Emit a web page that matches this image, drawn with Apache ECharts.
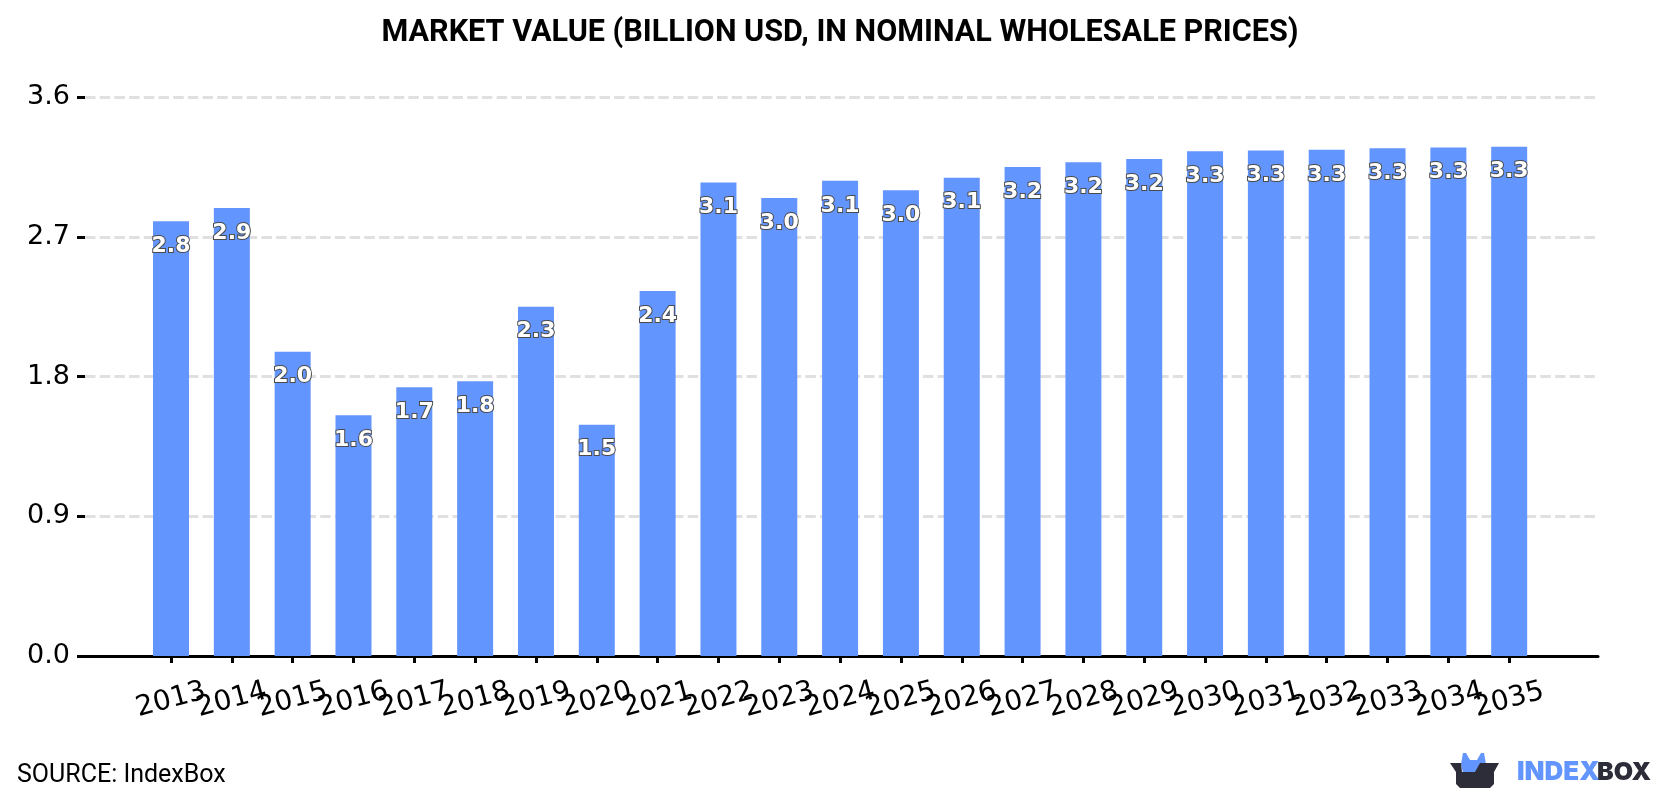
<!DOCTYPE html>
<html>
<head>
<meta charset="utf-8">
<style>html,body{margin:0;padding:0;background:#fff}#chart{width:1680px;height:800px}</style>
<script src="https://cdn.jsdelivr.net/npm/echarts@6/dist/echarts.min.js"></script>
</head>
<body>
<div id="chart"></div>
<script>
const years = ['2013','2014','2015','2016','2017','2018','2019','2020','2021','2022','2023','2024','2025','2026','2027','2028','2029','2030','2031','2032','2033','2034','2035'];
const marketValue = [2.80,2.885,1.96,1.55,1.73,1.77,2.25,1.49,2.35,3.05,2.95,3.06,3.00,3.08,3.15,3.18,3.20,3.25,3.255,3.26,3.27,3.275,3.28];
const valueTicks = {min:0,max:3.6,step:0.9};

const BLUE = '#6395ff';
const DARK = '#2c2d39';
const oneDecimal = v => (Math.round(v*10+1e-6)/10).toFixed(1);

const chart = echarts.init(document.getElementById('chart'));
chart.setOption({
  animation:false,
  backgroundColor:'#fff',
  title:{
    text:'MARKET VALUE (BILLION USD, IN NOMINAL WHOLESALE PRICES)',
    left:'center',top:13,
    textStyle:{fontFamily:'Roboto',fontWeight:'bold',fontSize:30.6,color:'#000'}
  },
  // The outer grid carries the value scale and the long baseline;
  // the inner one holds the year bands, inset from the baseline ends.
  grid:[
    {left:85,right:82,top:97,bottom:144},
    {left:140.6,width:1399,top:97,bottom:144}
  ],
  xAxis:[
    {gridIndex:0,type:'category',data:[],
      axisLine:{show:true,lineStyle:{color:'#000',width:3}},
      axisTick:{show:false},axisLabel:{show:false},splitLine:{show:false}},
    {gridIndex:1,type:'category',data:years,
      axisLine:{show:false},
      axisTick:{show:true,alignWithLabel:true,length:7,interval:0,lineStyle:{color:'#000',width:3}},
      axisLabel:{interval:0,rotate:15,margin:44,align:'center',verticalAlign:'middle',
        fontFamily:'DejaVu Sans',fontSize:28,color:'#000',lineHeight:40},
      splitLine:{show:false}}
  ],
  yAxis:[
    {gridIndex:0,type:'value',min:valueTicks.min,max:valueTicks.max,interval:valueTicks.step,
      axisLine:{show:false},
      axisTick:{show:true,length:8,lineStyle:{color:'#000',width:3}},
      axisLabel:{margin:15,fontFamily:'DejaVu Sans',fontSize:27,color:'#000',formatter:v=>v.toFixed(1)},
      splitLine:{show:true,lineStyle:{color:'#e0e0e0',width:3,type:[10.5,4.2]}}},
    {gridIndex:1,type:'value',min:valueTicks.min,max:valueTicks.max,interval:valueTicks.step,show:false,splitLine:{show:false}}
  ],
  series:[{
    type:'bar',xAxisIndex:1,yAxisIndex:1,data:marketValue,barWidth:36,
    itemStyle:{color:BLUE},
    label:{show:true,position:'insideTop',distance:14,
      formatter:p=>oneDecimal(p.value),
      fontFamily:'DejaVu Sans',fontWeight:'bold',fontSize:22,color:'#fff',
      textBorderColor:'#4a4a4a',textBorderWidth:2}
  }],
  graphic:[
    {type:'text',left:17,top:763,style:{text:'SOURCE: IndexBox',fontFamily:'Roboto',fontSize:25,fill:'#000'}},
    {type:'polygon',shape:{points:[[1461,764],[1463,753],[1466,753],[1470,760],[1477,760],[1481,753],[1484,753],[1486,764],[1480,773],[1463,773]]},style:{fill:BLUE}},
    {type:'polygon',shape:{points:[[1450,763],[1461,763],[1462,772],[1475,772],[1480,763],[1499,763],[1494,772],[1494,784],[1490,788],[1460,788],[1456,784],[1456,772]]},style:{fill:DARK}},
    {type:'text',left:1517,top:759,style:{text:'INDEX',fontFamily:'Inter',fontWeight:900,fontSize:26,fill:BLUE}},
    {type:'text',left:1597,top:760,style:{text:'BOX',fontFamily:'Inter',fontWeight:900,fontSize:25,fill:DARK}}
  ]
});
</script>
</body>
</html>
